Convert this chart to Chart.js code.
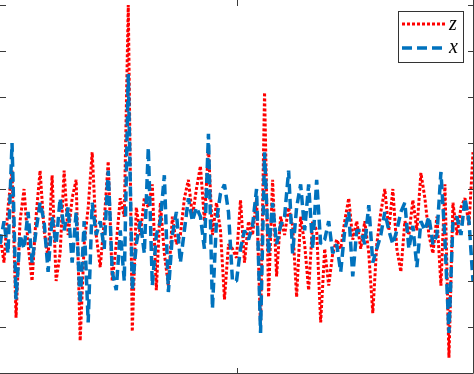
<!DOCTYPE html>
<html>
<head>
<meta charset="utf-8">
<script src="https://cdn.jsdelivr.net/npm/chart.js@4.4.1/dist/chart.umd.min.js"></script>
<style>
  html, body { margin: 0; padding: 0; background: #fff; overflow: hidden; }
  #wrap { width: 474px; height: 374px; }
</style>
</head>
<body>
<div id="wrap"><canvas id="sig" width="474" height="374"></canvas></div>
<script>
// Series values (one sample every ~4 px)
const zValues = [
  30, 24, 36, 44, 12, 33, 40, 28, 20, 34,
  44, 31, 25, 43, 20, 26, 44, 30, 38, 42,
  7, 28, 36, 48, 30, 23, 33, 46, 20, 28,
  38, 34, 80, 9, 36, 30, 38, 36, 41, 18,
  37, 26, 19, 34, 28, 30, 38, 42, 34, 40,
  45, 33, 49, 30, 37, 31, 16, 28, 27, 25,
  37.6, 24, 33, 30, 38, 10, 61, 16.5, 42, 21,
  34, 30, 36, 32, 16.5, 34, 28, 18, 33, 31,
  11, 27, 19, 26, 29, 27, 33, 38, 29, 33,
  27, 33, 26, 13, 28, 35, 40, 31, 40, 27,
  22, 33, 30, 37.6, 31, 43.5, 38, 30, 26, 34,
  19, 41, 3.3, 37, 30, 36, 38, 32, 48
];
const xValues = [
  28, 33, 26, 50, 16, 30, 27, 35, 24, 31,
  37, 33, 22, 34, 28, 38, 31, 36, 24, 35,
  15, 33, 11, 37, 30, 33, 27, 44, 22, 18,
  31, 20, 65, 18, 28, 33, 26, 49, 19, 30,
  33, 43, 17.6, 30, 35, 24, 31, 38, 33, 36,
  34, 27, 52, 14, 33, 39, 41, 35, 20, 20,
  27, 31, 29, 32, 40, 8.7, 48, 26, 37, 28,
  32, 34, 44, 26, 36, 41, 31, 41, 27, 42,
  28, 29, 33, 26, 28, 22, 31, 35, 21, 31,
  31, 28, 36.5, 24, 27, 30, 35, 31, 28, 31,
  35, 37, 27, 32, 23, 33, 31, 34, 28, 30,
  43.7, 29, 8.7, 33, 34, 30, 38, 33, 20
];
const yTicks = [10, 20, 30, 40, 50, 60, 70, 80];
const xTicks = [59];
const seriesNames = ['z', 'x'];

const axisColor = '#3a3a3a';

// MATLAB-like box with inward ticks and a framed legend
const boxPlugin = {
  id: 'box',
  afterDraw(chart) {
    const c = chart.ctx;
    const a = chart.chartArea;
    const sx = chart.scales.x, sy = chart.scales.y;
    c.save();
    c.strokeStyle = axisColor;
    c.lineWidth = 1;
    c.beginPath();
    c.moveTo(a.right + 0.5, 0);
    c.lineTo(a.right + 0.5, a.bottom - 0.5);
    c.lineTo(0, a.bottom - 0.5);
    c.stroke();
    c.beginPath();
    yTicks.forEach(v => {
      const y = Math.round(sy.getPixelForValue(v)) + 0.5;
      c.moveTo(0, y); c.lineTo(6, y);
      c.moveTo(a.right - 5, y); c.lineTo(a.right + 0.5, y);
    });
    xTicks.forEach(v => {
      const x = Math.round(sx.getPixelForValue(v)) + 0.5;
      c.moveTo(x, 0); c.lineTo(x, 6);
      c.moveTo(x, a.bottom - 6); c.lineTo(x, a.bottom);
    });
    c.stroke();

    // legend
    c.fillStyle = '#fff';
    c.fillRect(398, 11, 65, 51);
    c.strokeStyle = '#333';
    c.strokeRect(398.5, 11.5, 65, 51);
    chart.data.datasets.forEach((ds, i) => {
      const y = i === 0 ? 24 : 48;
      c.strokeStyle = ds.borderColor;
      c.lineWidth = ds.borderWidth;
      c.setLineDash(ds.borderDash);
      c.beginPath();
      c.moveTo(402, y); c.lineTo(446, y);
      c.stroke();
    });
    c.setLineDash([]);
    c.fillStyle = '#000';
    c.font = 'italic 20px "Liberation Serif", "DejaVu Serif", serif';
    c.textBaseline = 'middle';
    c.fillText(seriesNames[0], 449, 25);
    c.fillText(seriesNames[1], 449, 48);
    c.restore();
  }
};

new Chart(document.getElementById('sig').getContext('2d'), {
  type: 'line',
  data: {
    datasets: [{
      label: seriesNames[0],
      data: zValues.map((v, i) => ({ x: i, y: v })),
      borderColor: '#ff0000',
      borderWidth: 3,
      borderDash: [3, 2],
      borderCapStyle: 'butt',
      borderJoinStyle: 'bevel',
      pointRadius: 0,
      tension: 0,
      order: 1
    }, {
      label: seriesNames[1],
      data: xValues.map((v, i) => ({ x: i, y: v })),
      borderColor: '#0072bd',
      borderWidth: 3.5,
      borderDash: [10, 5],
      borderCapStyle: 'butt',
      borderJoinStyle: 'bevel',
      pointRadius: 0,
      tension: 0,
      order: 0
    }]
  },
  options: {
    responsive: false,
    animation: false,
    layout: { padding: { left: 0, top: 0, right: 1, bottom: 0 } },
    plugins: { legend: { display: false }, tooltip: { enabled: false } },
    scales: {
      x: { type: 'linear', min: 0, max: zValues.length - 1, display: false },
      y: { min: -1 / 4.6, max: 80 + 5 / 4.6, display: false }
    }
  },
  plugins: [boxPlugin]
});
</script>
</body>
</html>
